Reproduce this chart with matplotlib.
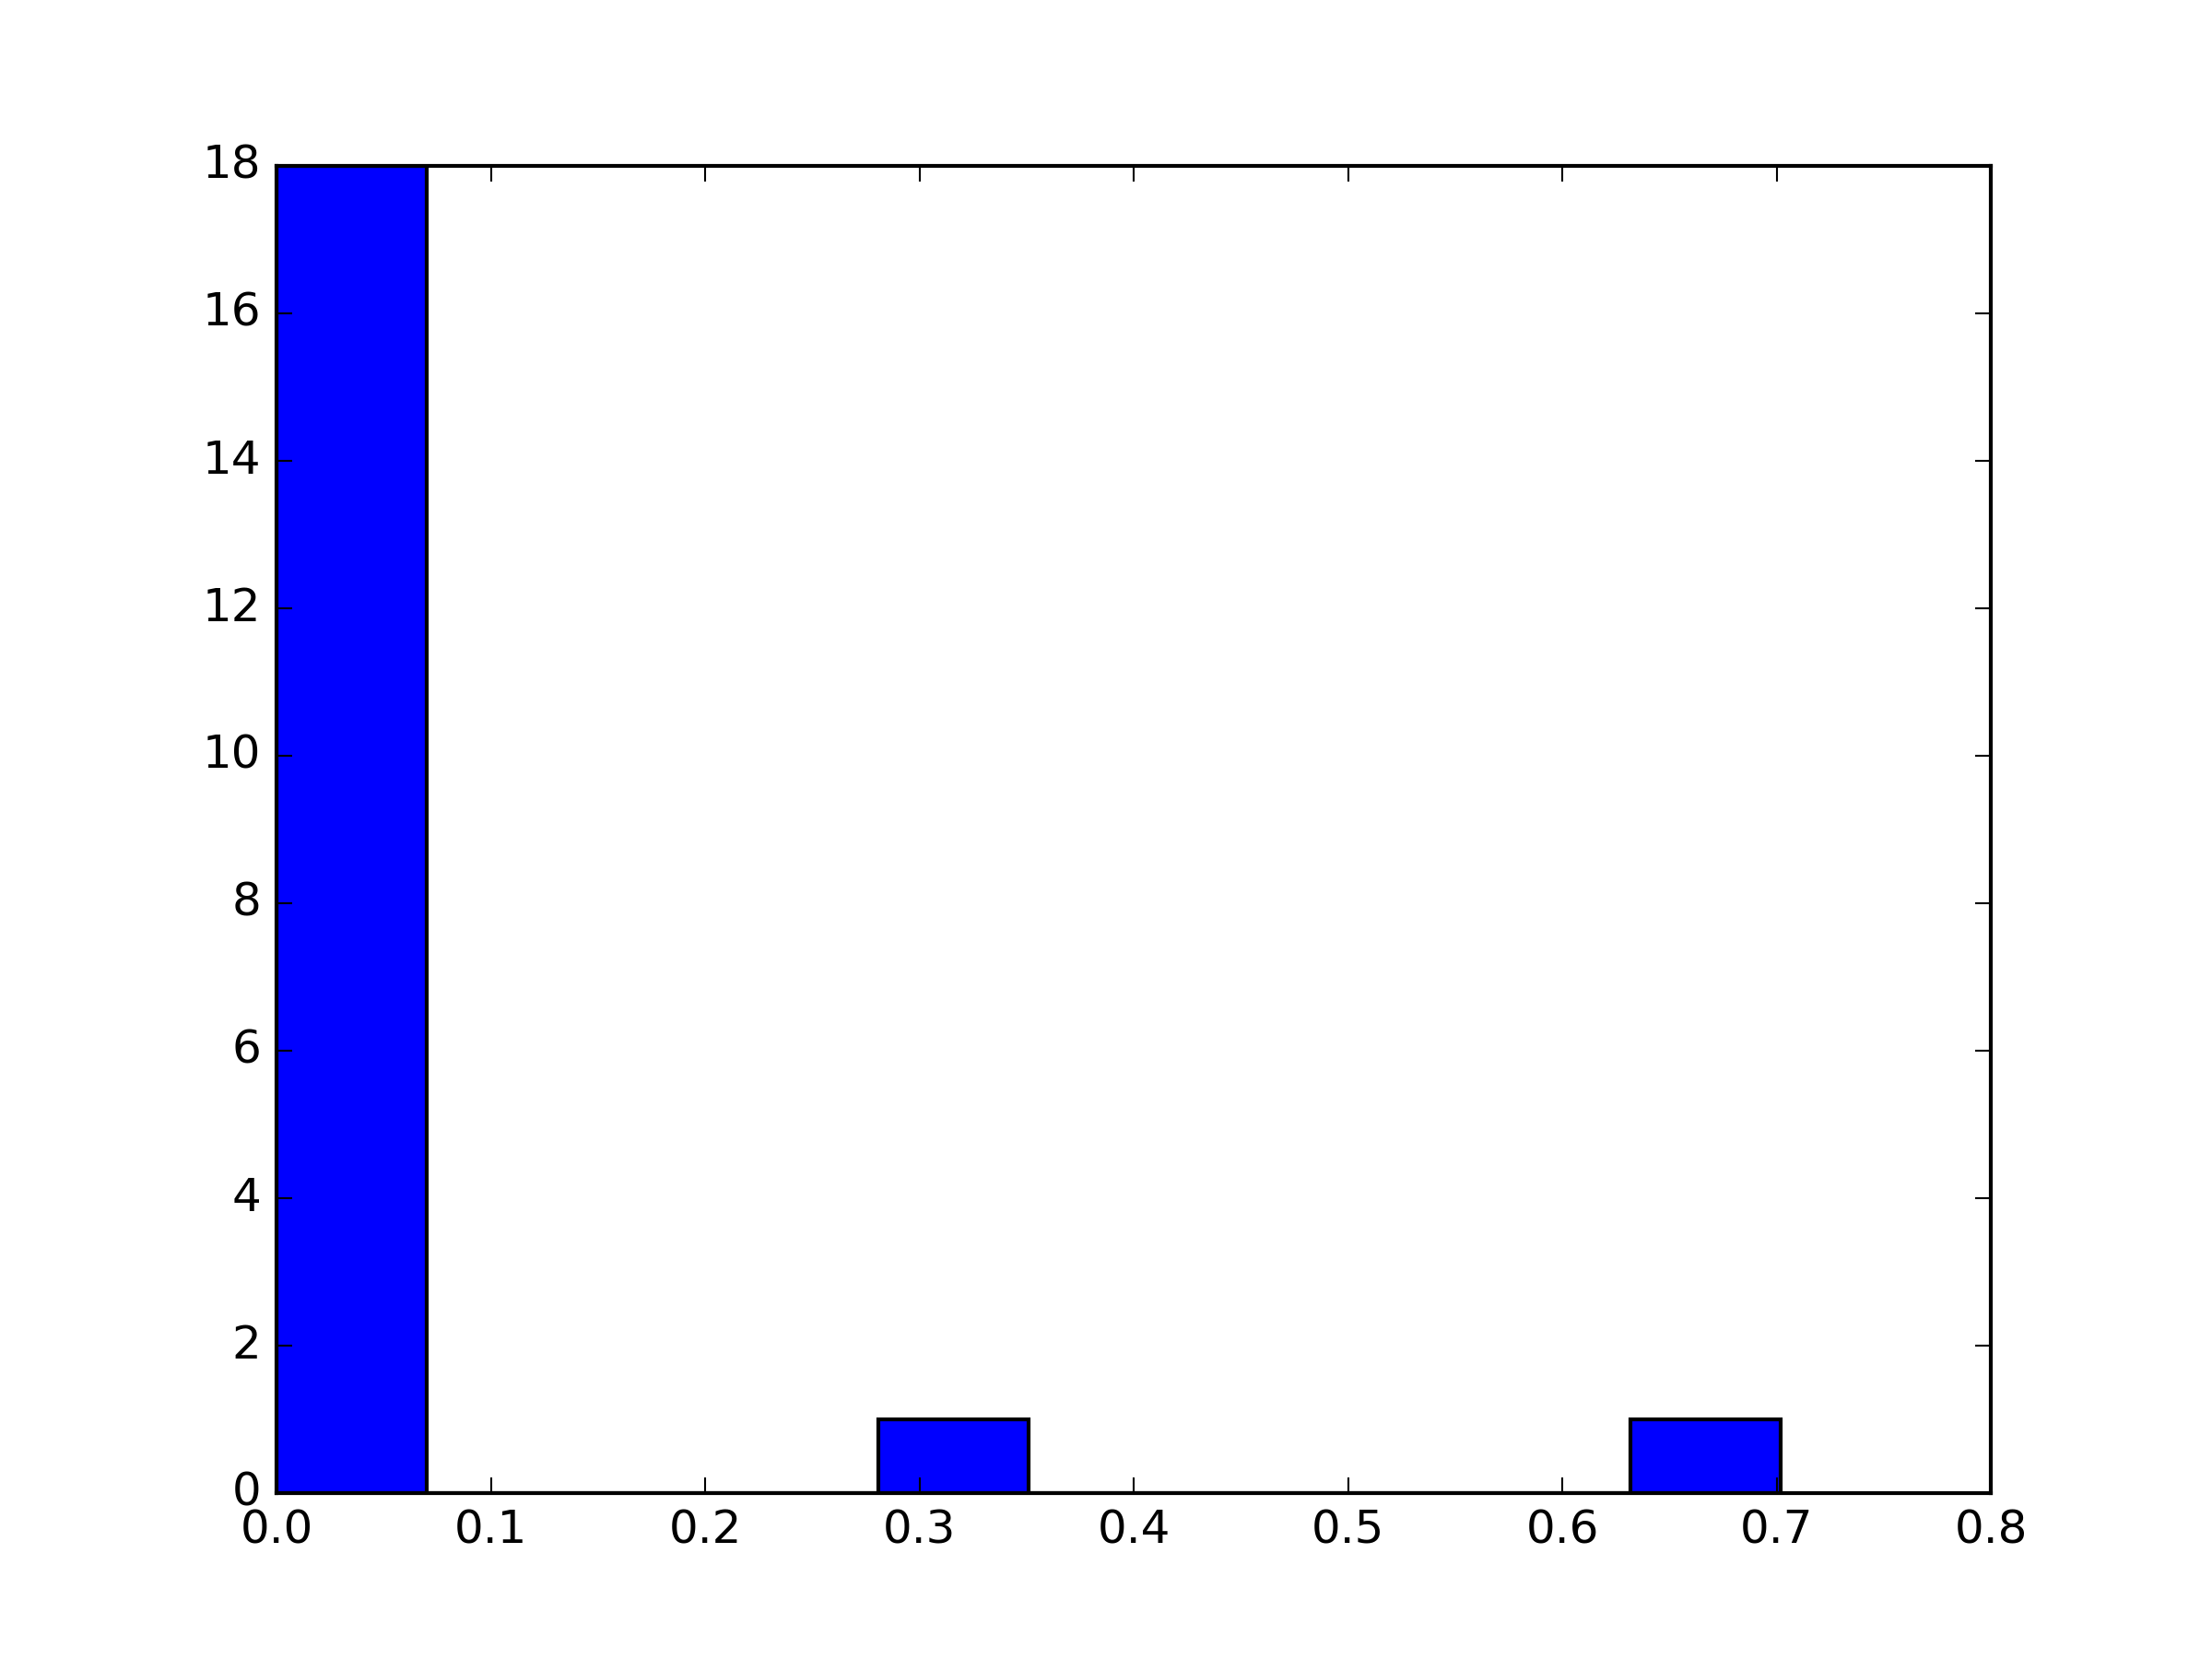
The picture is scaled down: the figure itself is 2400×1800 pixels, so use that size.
import matplotlib
matplotlib.use("Agg")
import matplotlib.pyplot as plt

# values: 18 near zero, one near 0.31, one at the max 0.702
values = [0.0] * 18 + [0.31, 0.702]
n_bins = 10

plt.style.use('classic')
fig, ax = plt.subplots(figsize=(8, 6), dpi=300)
ax.hist(values, bins=n_bins)
ax.set_xlim(0, 0.8)
ax.set_ylim(0, 18)
fig.savefig("out.png", dpi=300)
